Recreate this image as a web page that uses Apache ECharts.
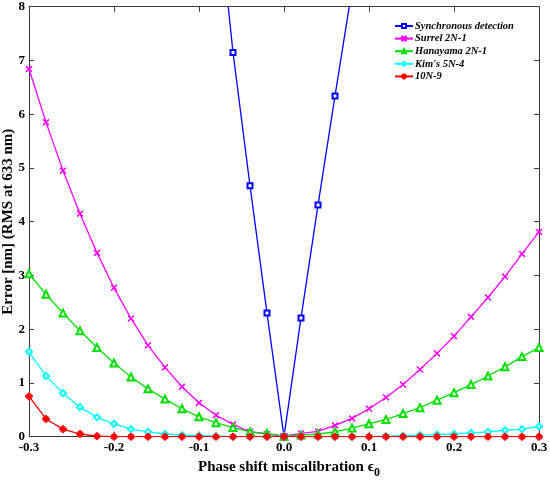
<!DOCTYPE html>
<html>
<head>
<meta charset="utf-8">
<script src="https://cdn.jsdelivr.net/npm/echarts@6/dist/echarts.min.js"></script>
<style>
html,body{margin:0;padding:0;background:#fff;}
#chart{width:550px;height:480px;}
</style>
</head>
<body>
<div id="chart"></div>
<script>
// ---- data ----
var xs = [-0.30,-0.28,-0.26,-0.24,-0.22,-0.20,-0.18,-0.16,-0.14,-0.12,-0.10,-0.08,-0.06,-0.04,-0.02,0.00,
          0.02,0.04,0.06,0.08,0.10,0.12,0.14,0.16,0.18,0.20,0.22,0.24,0.26,0.28,0.30];
var xsSync = [-0.08,-0.06,-0.04,-0.02,0.00,0.02,0.04,0.06,0.08];
var syncVals = [10.2,7.15,4.67,2.30,0.00,2.21,4.31,6.34,8.32];
var surrelVals = [6.84,5.85,4.95,4.15,3.42,2.77,2.20,1.70,1.29,0.93,0.63,0.40,0.23,0.09,0.05,0.01,
                  0.06,0.10,0.21,0.34,0.52,0.73,0.97,1.25,1.55,1.87,2.23,2.59,2.98,3.40,3.81];
var hanaVals = [3.03,2.65,2.30,1.97,1.66,1.37,1.11,0.89,0.70,0.52,0.37,0.26,0.17,0.09,0.06,0.01,
                0.03,0.05,0.09,0.16,0.24,0.32,0.43,0.54,0.68,0.82,0.97,1.13,1.30,1.49,1.66];
var kimVals = [1.58,1.13,0.81,0.55,0.36,0.24,0.14,0.09,0.05,0.03,0.02,0.01,0.00,0.00,0.00,0.00,
               0.00,0.00,0.00,0.00,0.00,0.01,0.02,0.03,0.04,0.05,0.07,0.09,0.12,0.14,0.19];
var tenVals = [0.75,0.33,0.14,0.05,0.01,0.00,0.00,0.00,0.00,0.00,0.00,0.00,0.00,0.00,0.00,0.00,
               0.00,0.00,0.00,0.00,0.00,0.00,0.00,0.00,0.00,0.00,0.00,0.00,0.00,0.00,0.00];
var seriesNames = ['Synchronous detection','Surrel 2N-1','Hanayama 2N-1',"Kim's 5N-4",'10N-9'];
var xTicks = {min:-0.3, max:0.3, interval:0.1};
var yTicks = {min:0, max:8, interval:1};

function pairs(x, y){ return x.map(function(v,i){ return [v, y[i]]; }); }

var crossPath = 'path://M0,1 L1,0 L5,4 L9,0 L10,1 L6,5 L10,9 L9,10 L5,6 L1,10 L0,9 L4,5 Z';
var starPath = 'path://M4.1,0 L5.9,0 L5.9,4.1 L10,4.1 L10,5.9 L5.9,5.9 L5.9,10 L4.1,10 L4.1,5.9 L0,5.9 L0,4.1 L4.1,4.1 Z ' +
               'M1.2,2.5 L2.5,1.2 L5,3.7 L7.5,1.2 L8.8,2.5 L6.3,5 L8.8,7.5 L7.5,8.8 L5,6.3 L2.5,8.8 L1.2,7.5 L3.7,5 Z';

var FONT = 'Liberation Serif, Times New Roman, serif';
var axisColor = '#3a3a3a';

function lineSeries(name, data, color, symbol, size){
  return {
    name: name, type: 'line', data: data,
    symbol: symbol, symbolSize: size, showAllSymbol: true,
    lineStyle: {color: color, width: 1.3},
    itemStyle: {color: color, borderColor: color, borderWidth: 1},
    emphasis: {disabled: true},
    animation: false, clip: true, z: 3
  };
}

var chart = echarts.init(document.getElementById('chart'), null, {renderer:'canvas'});
chart.setOption({
  backgroundColor: '#fff',
  animation: false,
  grid: {left: 29, right: 11, top: 6.7, bottom: 43.3, containLabel: false, outerBoundsMode: 'none'},
  legend: {
    orient: 'vertical', left: 394, top: 20, padding: 0,
    itemWidth: 18, itemHeight: 5, itemGap: 0.6,
    textStyle: {fontFamily: FONT, fontWeight: 'bold', fontStyle: 'italic', fontSize: 10.5, color: '#000', lineHeight: 12, padding: [0,0,0,-3]},
    data: seriesNames
  },
  xAxis: [{
    type: 'value', min: xTicks.min, max: xTicks.max, interval: xTicks.interval,
    position: 'bottom',
    name: '{a|Phase shift miscalibration }{e|ϵ}{s|0}',
    nameLocation: 'middle', nameGap: 18, nameMoveOverlap: false,
    nameTextStyle: {
      rich: {
        a: {fontFamily: FONT, fontWeight: 'bold', fontSize: 15, color: '#000', padding: [0,0,0,10]},
        e: {fontFamily: FONT, fontWeight: 'bold', fontSize: 15, color: '#000'},
        s: {fontFamily: FONT, fontWeight: 'bold', fontSize: 12, color: '#000', padding: [12,0,0,0]}
      }
    },
    axisLine: {show: true, onZero: false, lineStyle: {color: axisColor, width: 1}},
    axisTick: {show: true, inside: true, length: 5, lineStyle: {color: axisColor}},
    axisLabel: {fontFamily: FONT, fontWeight: 'bold', fontSize: 13, color: '#000', margin: 4,
      formatter: function(v){ return v.toFixed(1); }},
    splitLine: {show: false}
  },{
    type: 'value', min: xTicks.min, max: xTicks.max, interval: xTicks.interval,
    position: 'top',
    axisLine: {show: true, onZero: false, lineStyle: {color: axisColor, width: 1}},
    axisTick: {show: true, inside: true, length: 5, lineStyle: {color: axisColor}},
    axisLabel: {show: false}, splitLine: {show: false}
  }],
  yAxis: [{
    type: 'value', min: yTicks.min, max: yTicks.max, interval: yTicks.interval,
    position: 'left',
    name: 'Error [nm] (RMS at 633 nm)',
    nameLocation: 'middle', nameGap: 13, nameRotate: 90, nameMoveOverlap: false,
    nameTextStyle: {fontFamily: FONT, fontWeight: 'bold', fontSize: 15, color: '#000'},
    axisLine: {show: true, onZero: false, lineStyle: {color: axisColor, width: 1}},
    axisTick: {show: true, inside: true, length: 5, lineStyle: {color: axisColor}},
    axisLabel: {fontFamily: FONT, fontWeight: 'bold', fontSize: 13, color: '#000', margin: 4},
    splitLine: {show: false}
  },{
    type: 'value', min: yTicks.min, max: yTicks.max, interval: yTicks.interval,
    position: 'right',
    axisLine: {show: true, onZero: false, lineStyle: {color: axisColor, width: 1}},
    axisTick: {show: true, inside: true, length: 5, lineStyle: {color: axisColor}},
    axisLabel: {show: false}, splitLine: {show: false}
  }],
  series: [
    lineSeries(seriesNames[0], pairs(xsSync, syncVals), '#0000ff', 'emptyRect', 5),
    lineSeries(seriesNames[1], pairs(xs, surrelVals), '#ff00ff', crossPath, 6),
    lineSeries(seriesNames[2], pairs(xs, hanaVals), '#00e000', 'emptyTriangle', 7),
    lineSeries(seriesNames[3], pairs(xs, kimVals), '#00ffff', 'emptyDiamond', 6),
    lineSeries(seriesNames[4], pairs(xs, tenVals), '#ff0000', starPath, 7)
  ]
});
</script>
</body>
</html>
